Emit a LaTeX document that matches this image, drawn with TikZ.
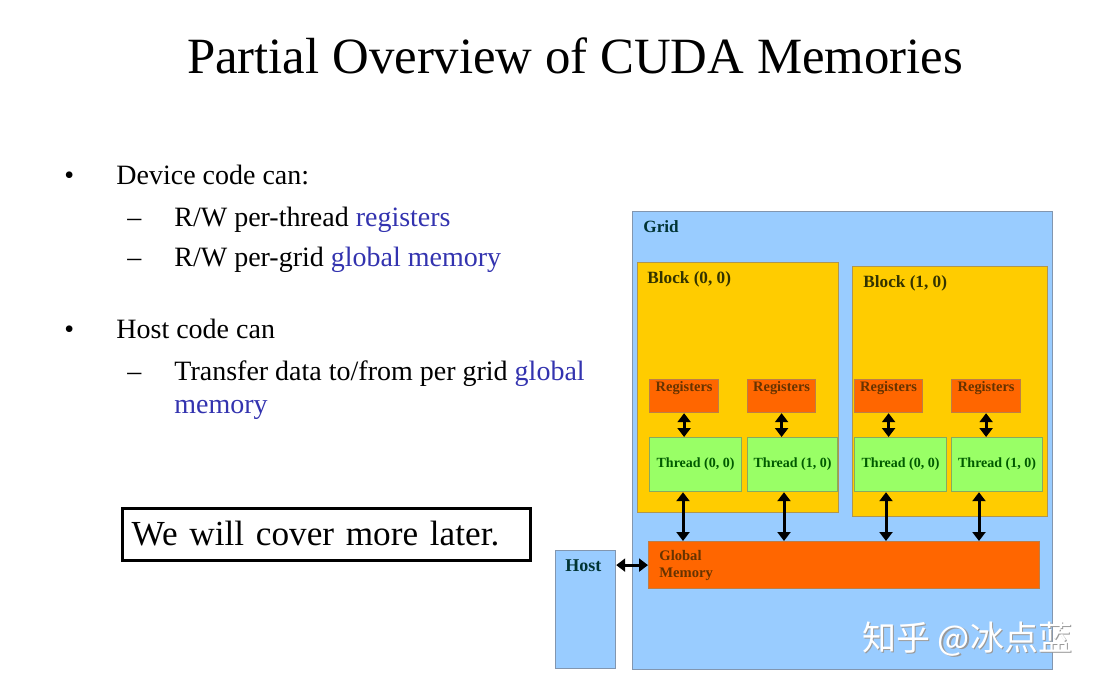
\documentclass[tikz,border=0pt]{standalone}
\usepackage{fontspec}
\setmainfont{Liberation Serif}
\newfontfamily\cjkfont{Noto Sans CJK SC}
\usetikzlibrary{arrows.meta,calc}
\definecolor{bl}{RGB}{51,51,175}
\definecolor{gridfill}{RGB}{153,204,255}
\definecolor{gridline}{RGB}{130,150,175}
\definecolor{blockfill}{RGB}{255,204,0}
\definecolor{blockline}{RGB}{175,150,80}
\definecolor{regfill}{RGB}{255,102,0}
\definecolor{regline}{RGB}{190,125,70}
\definecolor{thrfill}{RGB}{153,255,102}
\definecolor{thrline}{RGB}{135,170,95}
\definecolor{gridtxt}{RGB}{0,51,51}
\definecolor{blocktxt}{RGB}{51,51,0}
\definecolor{regtxt}{RGB}{102,51,0}
\definecolor{thrtxt}{RGB}{0,90,0}
\begin{document}
\begin{tikzpicture}[x=0.5pt,y=-0.5pt,
  txt/.style={inner sep=0pt,anchor=base west,font=\fontsize{14}{17}\selectfont},
  boxbase/.style={anchor=north west,inner sep=0pt,line width=0.6pt},
  gridbox/.style={boxbase,fill=gridfill,draw=gridline},
  blockbox/.style={boxbase,fill=blockfill,draw=blockline},
  regbox/.style={boxbase,fill=regfill,draw=regline,minimum height=16.5pt},
  thrbox/.style={boxbase,fill=thrfill,draw=thrline,minimum height=27pt},
  biglabel/.style={inner sep=0pt,anchor=base west,font=\bfseries\fontsize{8.6}{10}\selectfont},
  reglabel/.style={inner sep=0pt,anchor=base,text=regtxt,font=\bfseries\fontsize{7.2}{8}\selectfont},
  thrlabel/.style={inner sep=0pt,text=thrtxt,font=\bfseries\fontsize{7}{8}\selectfont},
  arr/.style={line width=1.5pt,{Triangle[width=6.5pt,length=4.5pt]}-{Triangle[width=6.5pt,length=4.5pt]}},
  wm/.style={inner sep=0pt,anchor=west,font=\cjkfont\fontsize{17}{20}\selectfont}
]
\useasboundingbox (0,0) rectangle (1098,687);

% title
\node[inner sep=0pt,anchor=base,font=\fontsize{25.4}{30}\selectfont] (title) at (575,73) {Partial Overview of CUDA Memories};

% bullets
\node[txt] (b1) at (64,184) {•};
\node[txt] (t1) at (116,184) {Device code can:};
\node[txt] (d1) at (127,226) {–};
\node[txt] (t2) at (174,226) {R/W per-thread \textcolor{bl}{registers}};
\node[txt] (d2) at (127,266) {–};
\node[txt] (t3) at (174,266) {R/W per-grid \textcolor{bl}{global memory}};
\node[txt] (b2) at (64,338) {•};
\node[txt] (t4) at (116,338) {Host code can};
\node[txt] (d3) at (127,380) {–};
\node[txt] (t5) at (174,380) {Transfer data to/from per grid \textcolor{bl}{global}};
\node[txt] (t6) at (174,413) {\textcolor{bl}{memory}};

% note box
\node[draw,line width=1.5pt,inner xsep=4.5pt,inner ysep=0pt,text width=195pt,align=left,
      minimum height=26pt,font=\fontsize{17.6}{20}\selectfont] (note) at (326.7,534) {We will cover more later.};

% grid and host
\node[gridbox,minimum width=210pt,minimum height=229pt] (grid) at (632,211) {};
\node[gridbox,minimum width=30pt,minimum height=59pt] (host) at (555,550) {};
\node[biglabel,text=gridtxt] (gridlbl) at (643,232) {Grid};
\node[biglabel,text=gridtxt,font=\bfseries\fontsize{9}{10}\selectfont] (hostlbl) at (565,571) {Host};

% blocks
\node[blockbox,minimum width=100.5pt,minimum height=125pt] (blk0) at (637,262) {};
\node[blockbox,minimum width=97.5pt,minimum height=125pt] (blk1) at (852,266) {};
\node[biglabel,text=blocktxt] (blk0lbl) at (647,283) {Block (0, 0)};
\node[biglabel,text=blocktxt] (blk1lbl) at (863,287) {Block (1, 0)};

% registers
\node[regbox,minimum width=34.5pt] (reg1) at (649,379) {};
\node[regbox,minimum width=34pt] (reg2) at (747,379) {};
\node[regbox,minimum width=34pt] (reg3) at (854,379) {};
\node[regbox,minimum width=34.5pt] (reg4) at (951,379) {};
\foreach \r in {1,2,3,4}{
  \node[reglabel] (reg\r lbl) at ($(reg\r.north)+(0,12)$) {Registers};
}

% threads
\node[thrbox,minimum width=46pt] (thr1) at (649,437) {};
\node[thrbox,minimum width=45pt] (thr2) at (747,437) {};
\node[thrbox,minimum width=46pt] (thr3) at (854,437) {};
\node[thrbox,minimum width=45.5pt] (thr4) at (951,437) {};
\node[thrlabel] (thr1lbl) at (thr1.center) {Thread (0, 0)};
\node[thrlabel] (thr2lbl) at (thr2.center) {Thread (1, 0)};
\node[thrlabel] (thr3lbl) at (thr3.center) {Thread (0, 0)};
\node[thrlabel] (thr4lbl) at (thr4.center) {Thread (1, 0)};

% global memory
\node[boxbase,fill=regfill,draw=regline,minimum width=195.5pt,minimum height=23.5pt] (glob) at (648,541) {};
\node[inner sep=0pt,anchor=north west,align=left,text=regtxt,
      font=\bfseries\fontsize{7.3}{8.6}\selectfont] (globlbl) at (659,550) {Global\\Memory};

% arrows
\foreach \r in {1,2,3,4}{
  \draw[arr] (reg\r.south) -- (reg\r.south |- thr\r.north);
}
\coordinate (c1) at (683,0);
\coordinate (c2) at (784,0);
\coordinate (c3) at (886,0);
\coordinate (c4) at (979,0);
\foreach \r in {1,2,3,4}{
  \draw[arr] (c\r |- thr\r.south) -- (c\r |- glob.north);
}
\draw[arr] (host.east |- glob.west) -- (glob.west);

% watermark
\node[wm,text=black!40] (wmshadow) at (863.2,640.2) {知乎 @冰点蓝};
\node[wm,text=white] (wmtext) at (862,639) {知乎 @冰点蓝};
\end{tikzpicture}
\end{document}
